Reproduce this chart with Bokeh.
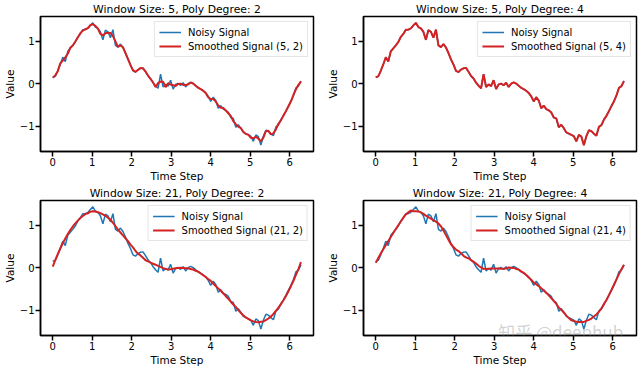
import numpy as np
from bokeh.plotting import figure
from bokeh.layouts import column, row
from bokeh.models import Label
from bokeh.embed import file_html
from bokeh.resources import INLINE

# ---- data ----
time_step = np.linspace(0, 2 * np.pi, 100)
noisy_signal = [
    0.15, 0.17, 0.30, 0.45, 0.62, 0.52, 0.76, 0.83, 0.90, 0.98,
    1.10, 1.17, 1.27, 1.27, 1.30, 1.37, 1.43, 1.33, 1.30, 1.22,
    1.03, 1.26, 1.22, 1.08, 1.27, 0.90, 0.86, 0.93, 0.85, 0.72,
    0.57, 0.45, 0.30, 0.27, 0.33, 0.36, 0.37, 0.28, 0.18, 0.12,
    0.02, -0.05, -0.11, 0.22, -0.08, -0.02, -0.06, 0.08, -0.13, -0.02,
    0.00, -0.04, 0.02, -0.08, 0.00, 0.03, 0.00, -0.05, -0.10, -0.13,
    -0.17, -0.22, -0.30, -0.42, -0.32, -0.40, -0.58, -0.52, -0.60, -0.63,
    -0.68, -0.80, -0.82, -1.03, -0.97, -1.05, -1.15, -1.18, -1.21, -1.24,
    -1.36, -1.21, -1.25, -1.45, -1.24, -1.10, -1.12, -1.18, -1.23, -1.02,
    -0.98, -0.85, -0.76, -0.65, -0.53, -0.42, -0.28, -0.10, -0.06, 0.06,
]
window_sizes = [5, 5, 21, 21]
poly_degrees = [2, 4, 2, 4]
x_ticks = [0, 1, 2, 3, 4, 5, 6]
y_ticks = [-1, 0, 1]


def savgol(y, w, deg):
    """Savitzky-Golay smoothing of the read noisy values (edges: polynomial fit)."""
    y = np.asarray(y, dtype=float)
    n = len(y)
    h = w // 2
    out = np.empty(n)
    t = np.arange(-h, h + 1)
    for i in range(h, n - h):
        c = np.polyfit(t, y[i - h:i + h + 1], deg)
        out[i] = np.polyval(c, 0)
    tw = np.arange(w)
    c = np.polyfit(tw, y[:w], deg)
    out[:h] = np.polyval(c, tw[:h])
    c = np.polyfit(tw, y[-w:], deg)
    out[n - h:] = np.polyval(c, tw[w - h:])
    return out


FONT = "DejaVu Sans"
BLUE = "#1f77b4"
RED = "#d42222"


def make_panel(w, deg, border_right):
    p = figure(
        frame_width=273, frame_height=135,
        x_range=(-0.31, 6.6), y_range=(-1.6, 1.58),
        title=f"Window Size: {w}, Poly Degree: {deg}",
        output_backend="svg", toolbar_location=None,
        min_border_left=0, min_border_right=border_right,
        min_border_top=0, min_border_bottom=0,
    )
    p.title.align = "center"
    p.title.text_font = FONT
    p.title.text_font_size = "10.8px"
    p.title.text_font_style = "normal"
    p.title.text_color = "black"
    p.title.standoff = 1
    p.title.offset = 0

    p.line(time_step, noisy_signal, line_color=BLUE, line_width=1.5, legend_label="Noisy Signal")
    p.line(time_step, savgol(noisy_signal, w, deg), line_color=RED, line_width=2,
           legend_label=f"Smoothed Signal ({w}, {deg})")

    p.grid.visible = False
    p.outline_line_color = "black"
    p.outline_line_width = 1.5
    p.outline_line_alpha = 1

    for ax in (p.xaxis[0], p.yaxis[0]):
        ax.axis_line_width = 1.5
        ax.axis_line_color = "black"
        ax.major_tick_line_width = 1.5
        ax.major_tick_out = 5
        ax.major_tick_in = 0
        ax.minor_tick_out = 0
        ax.minor_tick_in = 0
        ax.major_label_text_font = FONT
        ax.major_label_text_font_size = "10px"
        ax.major_label_text_color = "black"
        ax.axis_label_text_font = FONT
        ax.axis_label_text_font_size = "10.5px"
        ax.axis_label_text_font_style = "normal"
        ax.axis_label_text_color = "black"
        ax.major_label_standoff = 1
        ax.axis_label_standoff = 1

    p.xaxis.ticker = x_ticks
    p.yaxis.ticker = y_ticks
    p.yaxis.major_label_overrides = {-1: "\u22121", 0: "0", 1: "1"}
    p.xaxis.axis_label = "Time Step"
    p.yaxis.axis_label = "Value"

    lg = p.legend[0]
    lg.location = "top_right"
    lg.label_text_font = FONT
    lg.label_text_font_size = "10px"
    lg.label_text_color = "black"
    lg.glyph_width = 22
    lg.glyph_height = 12
    lg.label_height = 12
    lg.spacing = 2
    lg.padding = 4
    lg.margin = 5
    lg.label_standoff = 7
    lg.border_line_color = "#cccccc"
    lg.border_line_width = 1
    lg.background_fill_alpha = 0.8
    return p


p1 = make_panel(window_sizes[0], poly_degrees[0], 10)
p2 = make_panel(window_sizes[1], poly_degrees[1], 2)
p3 = make_panel(window_sizes[2], poly_degrees[2], 10)
p4 = make_panel(window_sizes[3], poly_degrees[3], 2)

p4.add_layout(Label(x=3.1, y=-1.5, text="知乎 @deephub", text_font="Noto Sans CJK SC",
                    text_font_size="17px", text_color="#9a9a9a", text_alpha=0.45,
                    text_baseline="middle"))

layout = column(row(p1, p2, spacing=0), row(p3, p4, spacing=0), spacing=0)

open("out.html", "w").write(file_html(layout, INLINE))
